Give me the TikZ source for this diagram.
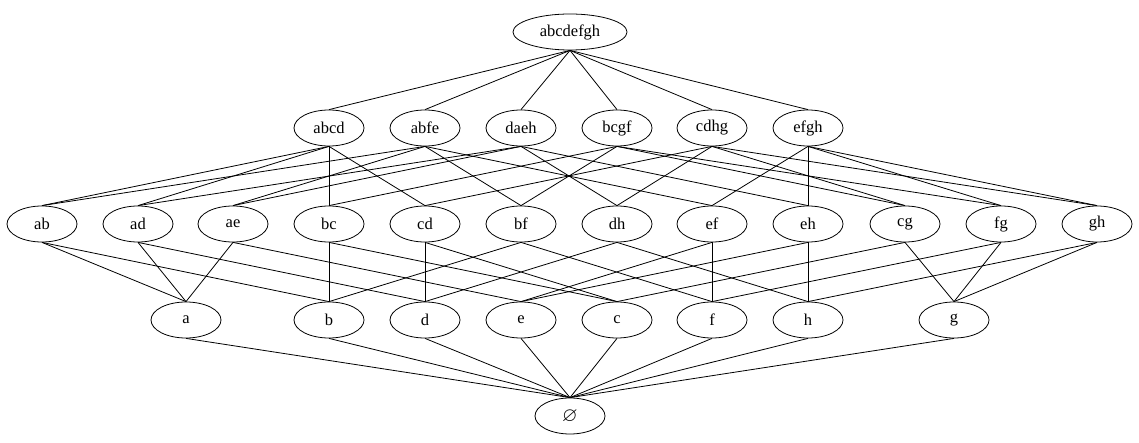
\documentclass[tikz,border=0pt]{standalone}
\usepackage{amssymb}
\usepackage{fontspec}
\setmainfont{Liberation Serif}
\usetikzlibrary{shapes.geometric}
\begin{document}
\begin{tikzpicture}[x=1pt,y=-1pt,
  v/.style={ellipse,draw,line width=0.8pt,minimum width=70pt,minimum height=36pt,inner sep=0pt,font=\fontsize{16.5}{18}\selectfont},
  e/.style={line width=0.8pt}]
\useasboundingbox (0,0) rectangle (1139,443);
\node[v,minimum width=114pt] (abcdefgh) at (570,32) {abcdefgh};
\foreach \n/\x in {abcd/329,abfe/425,daeh/521,bcgf/617,cdhg/712,efgh/808}
  \node[v] (\n) at (\x,128) {\n};
\foreach \n/\x in {ab/42,ad/138,ae/233,bc/329,cd/425,bf/521,dh/617,ef/712,eh/808,cg/905,fg/1001,gh/1097}
  \node[v] (\n) at (\x,224) {\n};
\foreach \n/\x in {a/186,b/329,d/425,e/521,c/617,f/712,h/808,g/954}
  \node[v] (\n) at (\x,320) {\n};
\node[v,font=\fontsize{20}{22}\selectfont] (empty) at (570,416) {$\varnothing$};
\foreach \n in {abcd,abfe,daeh,bcgf,cdhg,efgh}
  \draw[e] (abcdefgh.south) -- (\n.north);
\foreach \s/\t in {abcd/ab,abcd/ad,abcd/bc,abcd/cd,abfe/ab,abfe/ae,abfe/bf,abfe/ef,
  daeh/ad,daeh/ae,daeh/dh,daeh/eh,bcgf/bc,bcgf/bf,bcgf/cg,bcgf/fg,
  cdhg/cd,cdhg/dh,cdhg/cg,cdhg/gh,efgh/ef,efgh/eh,efgh/fg,efgh/gh,
  ab/a,ab/b,ad/a,ad/d,ae/a,ae/e,bc/b,bc/c,cd/d,cd/c,bf/b,bf/f,dh/d,dh/h,
  ef/e,ef/f,eh/e,eh/h,cg/c,cg/g,fg/f,fg/g,gh/g,gh/h}
  \draw[e] (\s.south) -- (\t.north);
\foreach \n in {a,b,d,e,c,f,h,g}
  \draw[e] (\n.south) -- (empty.north);
\end{tikzpicture}
\end{document}
